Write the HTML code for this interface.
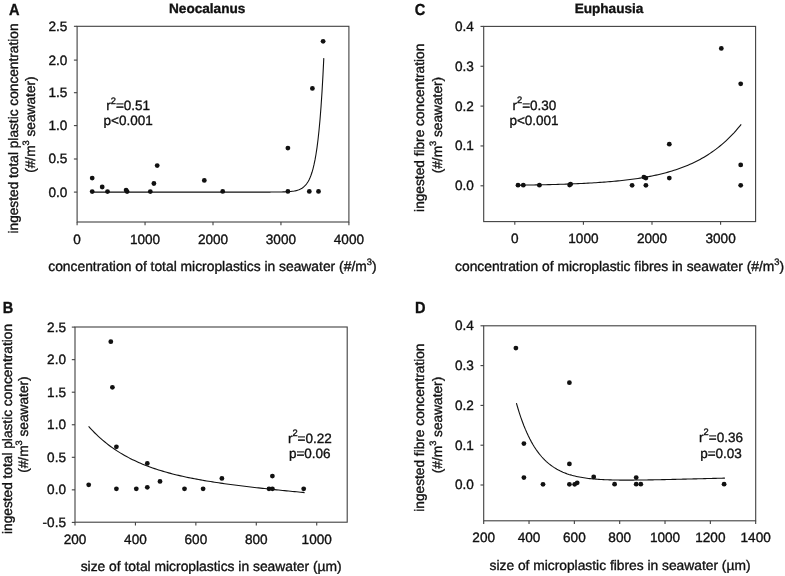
<!DOCTYPE html>
<html><head><meta charset="utf-8"><title>Figure</title>
<style>
html,body{margin:0;padding:0;background:#fff;}
svg{display:block;font-family:"Liberation Sans",sans-serif;fill:#111;text-rendering:geometricPrecision;}
text{stroke:#111;stroke-width:0.35px;}
</style></head>
<body>
<svg width="785" height="576" viewBox="0 0 785 576">
<rect x="0" y="0" width="785" height="576" fill="#fff" stroke="none"/>
<rect x="77.10" y="26.30" width="271.80" height="195.70" fill="none" stroke="#404040" stroke-width="1.1"/>
<line x1="73.90" y1="192.10" x2="77.10" y2="192.10" stroke="#404040" stroke-width="1.1"/>
<text x="67.30" y="196.50" text-anchor="end" font-size="13.6">0.0</text>
<line x1="73.90" y1="159.00" x2="77.10" y2="159.00" stroke="#404040" stroke-width="1.1"/>
<text x="67.30" y="163.40" text-anchor="end" font-size="13.6">0.5</text>
<line x1="73.90" y1="125.60" x2="77.10" y2="125.60" stroke="#404040" stroke-width="1.1"/>
<text x="67.30" y="130.00" text-anchor="end" font-size="13.6">1.0</text>
<line x1="73.90" y1="92.70" x2="77.10" y2="92.70" stroke="#404040" stroke-width="1.1"/>
<text x="67.30" y="97.10" text-anchor="end" font-size="13.6">1.5</text>
<line x1="73.90" y1="60.10" x2="77.10" y2="60.10" stroke="#404040" stroke-width="1.1"/>
<text x="67.30" y="64.50" text-anchor="end" font-size="13.6">2.0</text>
<line x1="73.90" y1="26.30" x2="77.10" y2="26.30" stroke="#404040" stroke-width="1.1"/>
<text x="67.30" y="30.70" text-anchor="end" font-size="13.6">2.5</text>
<line x1="77.10" y1="222.00" x2="77.10" y2="225.20" stroke="#404040" stroke-width="1.1"/>
<text x="77.10" y="243.55" text-anchor="middle" font-size="13.6">0</text>
<line x1="145.05" y1="222.00" x2="145.05" y2="225.20" stroke="#404040" stroke-width="1.1"/>
<text x="145.05" y="243.55" text-anchor="middle" font-size="13.6">1000</text>
<line x1="213.00" y1="222.00" x2="213.00" y2="225.20" stroke="#404040" stroke-width="1.1"/>
<text x="213.00" y="243.55" text-anchor="middle" font-size="13.6">2000</text>
<line x1="280.95" y1="222.00" x2="280.95" y2="225.20" stroke="#404040" stroke-width="1.1"/>
<text x="280.95" y="243.55" text-anchor="middle" font-size="13.6">3000</text>
<line x1="348.90" y1="222.00" x2="348.90" y2="225.20" stroke="#404040" stroke-width="1.1"/>
<text x="348.90" y="243.55" text-anchor="middle" font-size="13.6">4000</text>
<circle cx="92.2" cy="178.1" r="2.4"/>
<circle cx="92.2" cy="191.6" r="2.4"/>
<circle cx="102.2" cy="187.0" r="2.4"/>
<circle cx="107.5" cy="191.6" r="2.4"/>
<circle cx="126.1" cy="190.1" r="2.4"/>
<circle cx="127.1" cy="191.6" r="2.4"/>
<circle cx="150.3" cy="191.6" r="2.4"/>
<circle cx="153.9" cy="183.5" r="2.4"/>
<circle cx="157.2" cy="165.6" r="2.4"/>
<circle cx="204.3" cy="180.4" r="2.4"/>
<circle cx="222.7" cy="191.4" r="2.4"/>
<circle cx="287.9" cy="148.1" r="2.4"/>
<circle cx="287.9" cy="191.4" r="2.4"/>
<circle cx="309.3" cy="191.4" r="2.4"/>
<circle cx="318.5" cy="191.4" r="2.4"/>
<circle cx="312.4" cy="88.4" r="2.4"/>
<circle cx="323.1" cy="41.3" r="2.4"/>
<path d="M92.20,192.10 L250.00,192.10 L251.00,192.10 L252.00,192.10 L253.00,192.10 L254.00,192.10 L255.00,192.10 L256.00,192.10 L257.00,192.10 L258.00,192.10 L259.00,192.10 L260.00,192.10 L261.00,192.09 L262.00,192.09 L263.00,192.09 L264.00,192.09 L265.00,192.09 L266.00,192.09 L267.00,192.09 L268.00,192.08 L269.00,192.08 L270.00,192.08 L271.00,192.07 L272.00,192.07 L273.00,192.06 L274.00,192.06 L275.00,192.05 L276.00,192.04 L277.00,192.03 L278.00,192.02 L279.00,192.01 L280.00,191.99 L281.00,191.97 L282.00,191.95 L283.00,191.92 L284.00,191.89 L285.00,191.85 L286.00,191.81 L287.00,191.75 L288.00,191.69 L289.00,191.62 L290.00,191.54 L291.00,191.44 L292.00,191.32 L293.00,191.19 L294.00,191.03 L295.00,190.84 L296.00,190.62 L297.00,190.36 L298.00,190.05 L299.00,189.69 L300.00,189.26 L301.00,188.77 L302.00,188.18 L303.00,187.49 L304.00,186.68 L305.00,185.73 L306.00,184.60 L307.00,183.29 L308.00,181.74 L309.00,179.91 L310.00,177.77 L311.00,175.25 L312.00,172.29 L313.00,168.80 L314.00,164.71 L315.00,159.89 L316.00,154.23 L317.00,147.57 L318.00,139.73 L319.00,130.53 L320.00,119.70 L321.00,106.96 L322.00,91.99 L323.00,74.39 L323.80,58.10" fill="none" stroke="#111" stroke-width="1.1"/>
<text transform="translate(14.20 14.60) scale(0.91 1)" x="0" y="0" text-anchor="middle" font-size="16" font-weight="bold">A</text>
<text x="207.20" y="13.30" text-anchor="middle" font-size="13.6" font-weight="bold">Neocalanus</text>
<text x="212.40" y="270.60" text-anchor="middle" font-size="13.85">concentration of total microplastics in seawater (#/m<tspan dy="-5.9" font-size="9.3">3</tspan><tspan dy="5.9">)</tspan></text>
<text x="17.80" y="128.50" text-anchor="middle" font-size="13.7" transform="rotate(-90 17.80 128.50)">ingested total plastic concentration</text>
<text x="34.80" y="124.60" text-anchor="middle" font-size="13.7" transform="rotate(-90 34.80 124.60)">(#/m<tspan dy="-5.9" font-size="9.3">3</tspan><tspan dy="5.9"> seawater)</tspan></text>
<text x="128.20" y="110.10" text-anchor="middle" font-size="13.5">r<tspan dy="-6.6" font-size="9.3">2</tspan><tspan dy="6.6">=0.51</tspan></text>
<text x="128.20" y="124.70" text-anchor="middle" font-size="13.5">p&lt;0.001</text>
<rect x="483.70" y="26.40" width="271.90" height="195.20" fill="none" stroke="#404040" stroke-width="1.1"/>
<line x1="480.50" y1="185.80" x2="483.70" y2="185.80" stroke="#404040" stroke-width="1.1"/>
<text x="473.90" y="190.20" text-anchor="end" font-size="13.6">0.0</text>
<line x1="480.50" y1="145.95" x2="483.70" y2="145.95" stroke="#404040" stroke-width="1.1"/>
<text x="473.90" y="150.35" text-anchor="end" font-size="13.6">0.1</text>
<line x1="480.50" y1="106.10" x2="483.70" y2="106.10" stroke="#404040" stroke-width="1.1"/>
<text x="473.90" y="110.50" text-anchor="end" font-size="13.6">0.2</text>
<line x1="480.50" y1="66.25" x2="483.70" y2="66.25" stroke="#404040" stroke-width="1.1"/>
<text x="473.90" y="70.65" text-anchor="end" font-size="13.6">0.3</text>
<line x1="480.50" y1="26.40" x2="483.70" y2="26.40" stroke="#404040" stroke-width="1.1"/>
<text x="473.90" y="30.80" text-anchor="end" font-size="13.6">0.4</text>
<line x1="514.80" y1="221.60" x2="514.80" y2="224.80" stroke="#404040" stroke-width="1.1"/>
<text x="514.80" y="243.15" text-anchor="middle" font-size="13.6">0</text>
<line x1="583.40" y1="221.60" x2="583.40" y2="224.80" stroke="#404040" stroke-width="1.1"/>
<text x="583.40" y="243.15" text-anchor="middle" font-size="13.6">1000</text>
<line x1="652.00" y1="221.60" x2="652.00" y2="224.80" stroke="#404040" stroke-width="1.1"/>
<text x="652.00" y="243.15" text-anchor="middle" font-size="13.6">2000</text>
<line x1="720.60" y1="221.60" x2="720.60" y2="224.80" stroke="#404040" stroke-width="1.1"/>
<text x="720.60" y="243.15" text-anchor="middle" font-size="13.6">3000</text>
<circle cx="518.0" cy="185.2" r="2.4"/>
<circle cx="523.3" cy="185.2" r="2.4"/>
<circle cx="539.4" cy="185.2" r="2.4"/>
<circle cx="569.6" cy="185.0" r="2.4"/>
<circle cx="570.6" cy="184.2" r="2.4"/>
<circle cx="632.1" cy="185.3" r="2.4"/>
<circle cx="645.9" cy="185.3" r="2.4"/>
<circle cx="643.9" cy="177.1" r="2.4"/>
<circle cx="645.9" cy="178.1" r="2.4"/>
<circle cx="669.3" cy="178.1" r="2.4"/>
<circle cx="669.3" cy="144.2" r="2.4"/>
<circle cx="721.3" cy="48.4" r="2.4"/>
<circle cx="740.7" cy="83.8" r="2.4"/>
<circle cx="740.7" cy="164.9" r="2.4"/>
<circle cx="740.7" cy="185.3" r="2.4"/>
<path d="M518.00,185.17 L520.00,185.15 L522.00,185.12 L524.00,185.09 L526.00,185.06 L528.00,185.03 L530.00,185.00 L532.00,184.96 L534.00,184.93 L536.00,184.89 L538.00,184.86 L540.00,184.82 L542.00,184.77 L544.00,184.73 L546.00,184.69 L548.00,184.64 L550.00,184.59 L552.00,184.54 L554.00,184.49 L556.00,184.43 L558.00,184.37 L560.00,184.32 L562.00,184.25 L564.00,184.19 L566.00,184.12 L568.00,184.05 L570.00,183.98 L572.00,183.90 L574.00,183.82 L576.00,183.74 L578.00,183.65 L580.00,183.56 L582.00,183.47 L584.00,183.37 L586.00,183.27 L588.00,183.16 L590.00,183.05 L592.00,182.93 L594.00,182.81 L596.00,182.69 L598.00,182.56 L600.00,182.42 L602.00,182.28 L604.00,182.13 L606.00,181.98 L608.00,181.82 L610.00,181.65 L612.00,181.48 L614.00,181.30 L616.00,181.11 L618.00,180.91 L620.00,180.70 L622.00,180.49 L624.00,180.27 L626.00,180.04 L628.00,179.79 L630.00,179.54 L632.00,179.28 L634.00,179.01 L636.00,178.72 L638.00,178.42 L640.00,178.11 L642.00,177.79 L644.00,177.46 L646.00,177.11 L648.00,176.74 L650.00,176.36 L652.00,175.96 L654.00,175.55 L656.00,175.12 L658.00,174.67 L660.00,174.21 L662.00,173.72 L664.00,173.21 L666.00,172.69 L668.00,172.14 L670.00,171.56 L672.00,170.97 L674.00,170.34 L676.00,169.69 L678.00,169.02 L680.00,168.31 L682.00,167.58 L684.00,166.82 L686.00,166.02 L688.00,165.19 L690.00,164.33 L692.00,163.42 L694.00,162.49 L696.00,161.51 L698.00,160.49 L700.00,159.43 L702.00,158.32 L704.00,157.17 L706.00,155.97 L708.00,154.71 L710.00,153.41 L712.00,152.05 L714.00,150.63 L716.00,149.16 L718.00,147.62 L720.00,146.02 L722.00,144.35 L724.00,142.61 L726.00,140.80 L728.00,138.91 L730.00,136.94 L732.00,134.89 L734.00,132.76 L736.00,130.53 L738.00,128.21 L740.00,125.80 L741.20,124.30" fill="none" stroke="#111" stroke-width="1.1"/>
<text transform="translate(420.00 14.60) scale(0.91 1)" x="0" y="0" text-anchor="middle" font-size="16" font-weight="bold">C</text>
<text x="609.00" y="13.30" text-anchor="middle" font-size="13.6" font-weight="bold">Euphausia</text>
<text x="619.60" y="270.60" text-anchor="middle" font-size="13.85">concentration of microplastic fibres in seawater (#/m<tspan dy="-5.9" font-size="9.3">3</tspan><tspan dy="5.9">)</tspan></text>
<text x="424.50" y="127.80" text-anchor="middle" font-size="13.7" transform="rotate(-90 424.50 127.80)">ingested fibre concentration</text>
<text x="442.00" y="125.10" text-anchor="middle" font-size="13.7" transform="rotate(-90 442.00 125.10)">(#/m<tspan dy="-5.9" font-size="9.3">3</tspan><tspan dy="5.9"> seawater)</tspan></text>
<text x="534.40" y="109.70" text-anchor="middle" font-size="13.5">r<tspan dy="-6.6" font-size="9.3">2</tspan><tspan dy="6.6">=0.30</tspan></text>
<text x="534.00" y="124.70" text-anchor="middle" font-size="13.5">p&lt;0.001</text>
<rect x="75.00" y="327.00" width="272.20" height="195.20" fill="none" stroke="#404040" stroke-width="1.1"/>
<line x1="71.80" y1="522.40" x2="75.00" y2="522.40" stroke="#404040" stroke-width="1.1"/>
<text x="66.00" y="526.90" text-anchor="end" font-size="13.6">-0.5</text>
<line x1="71.80" y1="489.85" x2="75.00" y2="489.85" stroke="#404040" stroke-width="1.1"/>
<text x="66.00" y="494.35" text-anchor="end" font-size="13.6">0.0</text>
<line x1="71.80" y1="457.30" x2="75.00" y2="457.30" stroke="#404040" stroke-width="1.1"/>
<text x="66.00" y="461.80" text-anchor="end" font-size="13.6">0.5</text>
<line x1="71.80" y1="424.75" x2="75.00" y2="424.75" stroke="#404040" stroke-width="1.1"/>
<text x="66.00" y="429.25" text-anchor="end" font-size="13.6">1.0</text>
<line x1="71.80" y1="392.20" x2="75.00" y2="392.20" stroke="#404040" stroke-width="1.1"/>
<text x="66.00" y="396.70" text-anchor="end" font-size="13.6">1.5</text>
<line x1="71.80" y1="359.65" x2="75.00" y2="359.65" stroke="#404040" stroke-width="1.1"/>
<text x="66.00" y="364.15" text-anchor="end" font-size="13.6">2.0</text>
<line x1="71.80" y1="327.10" x2="75.00" y2="327.10" stroke="#404040" stroke-width="1.1"/>
<text x="66.00" y="331.60" text-anchor="end" font-size="13.6">2.5</text>
<line x1="75.00" y1="522.20" x2="75.00" y2="525.40" stroke="#404040" stroke-width="1.1"/>
<text x="75.00" y="543.75" text-anchor="middle" font-size="13.6">200</text>
<line x1="135.43" y1="522.20" x2="135.43" y2="525.40" stroke="#404040" stroke-width="1.1"/>
<text x="135.43" y="543.75" text-anchor="middle" font-size="13.6">400</text>
<line x1="195.86" y1="522.20" x2="195.86" y2="525.40" stroke="#404040" stroke-width="1.1"/>
<text x="195.86" y="543.75" text-anchor="middle" font-size="13.6">600</text>
<line x1="256.29" y1="522.20" x2="256.29" y2="525.40" stroke="#404040" stroke-width="1.1"/>
<text x="256.29" y="543.75" text-anchor="middle" font-size="13.6">800</text>
<line x1="316.72" y1="522.20" x2="316.72" y2="525.40" stroke="#404040" stroke-width="1.1"/>
<text x="316.72" y="543.75" text-anchor="middle" font-size="13.6">1000</text>
<circle cx="88.7" cy="484.8" r="2.4"/>
<circle cx="110.8" cy="341.7" r="2.4"/>
<circle cx="112.4" cy="387.3" r="2.4"/>
<circle cx="116.4" cy="446.8" r="2.4"/>
<circle cx="116.4" cy="488.8" r="2.4"/>
<circle cx="136.3" cy="488.8" r="2.4"/>
<circle cx="147.3" cy="487.3" r="2.4"/>
<circle cx="147.3" cy="463.4" r="2.4"/>
<circle cx="160.0" cy="481.4" r="2.4"/>
<circle cx="184.5" cy="488.8" r="2.4"/>
<circle cx="203.1" cy="488.8" r="2.4"/>
<circle cx="221.9" cy="478.4" r="2.4"/>
<circle cx="269.0" cy="488.8" r="2.4"/>
<circle cx="272.4" cy="488.8" r="2.4"/>
<circle cx="272.4" cy="476.1" r="2.4"/>
<circle cx="303.7" cy="488.8" r="2.4"/>
<path d="M88.60,426.40 L90.60,428.60 L92.60,430.71 L94.60,432.74 L96.60,434.69 L98.60,436.57 L100.60,438.38 L102.60,440.12 L104.60,441.79 L106.60,443.40 L108.60,444.95 L110.60,446.44 L112.60,447.88 L114.60,449.26 L116.60,450.59 L118.60,451.88 L120.60,453.11 L122.60,454.31 L124.60,455.46 L126.60,456.57 L128.60,457.63 L130.60,458.67 L132.60,459.66 L134.60,460.62 L136.60,461.55 L138.60,462.45 L140.60,463.31 L142.60,464.15 L144.60,464.95 L146.60,465.74 L148.60,466.49 L150.60,467.22 L152.60,467.93 L154.60,468.62 L156.60,469.28 L158.60,469.92 L160.60,470.55 L162.60,471.15 L164.60,471.73 L166.60,472.30 L168.60,472.85 L170.60,473.39 L172.60,473.91 L174.60,474.41 L176.60,474.91 L178.60,475.38 L180.60,475.85 L182.60,476.30 L184.60,476.74 L186.60,477.17 L188.60,477.59 L190.60,478.00 L192.60,478.39 L194.60,478.78 L196.60,479.16 L198.60,479.53 L200.60,479.89 L202.60,480.25 L204.60,480.59 L206.60,480.93 L208.60,481.26 L210.60,481.58 L212.60,481.90 L214.60,482.21 L216.60,482.52 L218.60,482.82 L220.60,483.11 L222.60,483.40 L224.60,483.69 L226.60,483.97 L228.60,484.24 L230.60,484.51 L232.60,484.78 L234.60,485.04 L236.60,485.30 L238.60,485.55 L240.60,485.80 L242.60,486.05 L244.60,486.29 L246.60,486.53 L248.60,486.77 L250.60,487.00 L252.60,487.23 L254.60,487.46 L256.60,487.69 L258.60,487.91 L260.60,488.14 L262.60,488.36 L264.60,488.57 L266.60,488.79 L268.60,489.00 L270.60,489.21 L272.60,489.42 L274.60,489.63 L276.60,489.84 L278.60,490.04 L280.60,490.24 L282.60,490.45 L284.60,490.65 L286.60,490.85 L288.60,491.04 L290.60,491.24 L292.60,491.43 L294.60,491.63 L296.60,491.82 L298.60,492.01 L300.60,492.20 L302.60,492.39 L304.60,492.58" fill="none" stroke="#111" stroke-width="1.1"/>
<text transform="translate(8.10 312.60) scale(0.91 1)" x="0" y="0" text-anchor="middle" font-size="16" font-weight="bold">B</text>
<text x="211.20" y="571.10" text-anchor="middle" font-size="13.85">size of total microplastics in seawater (µm)</text>
<text x="11.50" y="429.00" text-anchor="middle" font-size="13.7" transform="rotate(-90 11.50 429.00)">ingested total plastic concentration</text>
<text x="28.40" y="424.60" text-anchor="middle" font-size="13.7" transform="rotate(-90 28.40 424.60)">(#/m<tspan dy="-5.9" font-size="9.3">3</tspan><tspan dy="5.9"> seawater)</tspan></text>
<text x="309.80" y="442.90" text-anchor="middle" font-size="13.5">r<tspan dy="-6.6" font-size="9.3">2</tspan><tspan dy="6.6">=0.22</tspan></text>
<text x="309.80" y="458.10" text-anchor="middle" font-size="13.5">p=0.06</text>
<rect x="483.70" y="325.80" width="272.00" height="195.00" fill="none" stroke="#404040" stroke-width="1.1"/>
<line x1="480.50" y1="485.00" x2="483.70" y2="485.00" stroke="#404040" stroke-width="1.1"/>
<text x="473.90" y="489.40" text-anchor="end" font-size="13.6">0.0</text>
<line x1="480.50" y1="445.20" x2="483.70" y2="445.20" stroke="#404040" stroke-width="1.1"/>
<text x="473.90" y="449.60" text-anchor="end" font-size="13.6">0.1</text>
<line x1="480.50" y1="405.40" x2="483.70" y2="405.40" stroke="#404040" stroke-width="1.1"/>
<text x="473.90" y="409.80" text-anchor="end" font-size="13.6">0.2</text>
<line x1="480.50" y1="365.60" x2="483.70" y2="365.60" stroke="#404040" stroke-width="1.1"/>
<text x="473.90" y="370.00" text-anchor="end" font-size="13.6">0.3</text>
<line x1="480.50" y1="325.80" x2="483.70" y2="325.80" stroke="#404040" stroke-width="1.1"/>
<text x="473.90" y="330.20" text-anchor="end" font-size="13.6">0.4</text>
<line x1="483.70" y1="520.80" x2="483.70" y2="524.00" stroke="#404040" stroke-width="1.1"/>
<text x="483.70" y="542.35" text-anchor="middle" font-size="13.6">200</text>
<line x1="529.03" y1="520.80" x2="529.03" y2="524.00" stroke="#404040" stroke-width="1.1"/>
<text x="529.03" y="542.35" text-anchor="middle" font-size="13.6">400</text>
<line x1="574.36" y1="520.80" x2="574.36" y2="524.00" stroke="#404040" stroke-width="1.1"/>
<text x="574.36" y="542.35" text-anchor="middle" font-size="13.6">600</text>
<line x1="619.69" y1="520.80" x2="619.69" y2="524.00" stroke="#404040" stroke-width="1.1"/>
<text x="619.69" y="542.35" text-anchor="middle" font-size="13.6">800</text>
<line x1="665.02" y1="520.80" x2="665.02" y2="524.00" stroke="#404040" stroke-width="1.1"/>
<text x="665.02" y="542.35" text-anchor="middle" font-size="13.6">1000</text>
<line x1="710.35" y1="520.80" x2="710.35" y2="524.00" stroke="#404040" stroke-width="1.1"/>
<text x="710.35" y="542.35" text-anchor="middle" font-size="13.6">1200</text>
<line x1="755.68" y1="520.80" x2="755.68" y2="524.00" stroke="#404040" stroke-width="1.1"/>
<text x="755.68" y="542.35" text-anchor="middle" font-size="13.6">1400</text>
<circle cx="515.9" cy="348.1" r="2.4"/>
<circle cx="569.4" cy="382.7" r="2.4"/>
<circle cx="523.9" cy="443.6" r="2.4"/>
<circle cx="523.9" cy="477.6" r="2.4"/>
<circle cx="543.0" cy="484.3" r="2.4"/>
<circle cx="569.4" cy="463.9" r="2.4"/>
<circle cx="569.4" cy="484.3" r="2.4"/>
<circle cx="574.7" cy="484.3" r="2.4"/>
<circle cx="577.2" cy="482.8" r="2.4"/>
<circle cx="593.7" cy="476.9" r="2.4"/>
<circle cx="614.6" cy="484.2" r="2.4"/>
<circle cx="636.2" cy="477.6" r="2.4"/>
<circle cx="636.2" cy="484.2" r="2.4"/>
<circle cx="640.8" cy="484.2" r="2.4"/>
<circle cx="724.1" cy="484.2" r="2.4"/>
<path d="M516.40,403.12 L517.90,408.26 L519.40,413.08 L520.90,417.58 L522.40,421.78 L523.90,425.72 L525.40,429.39 L526.90,432.83 L528.40,436.05 L529.90,439.05 L531.40,441.86 L532.90,444.49 L534.40,446.94 L535.90,449.23 L537.40,451.38 L538.90,453.38 L540.40,455.25 L541.90,457.00 L543.40,458.63 L544.90,460.15 L546.40,461.58 L547.90,462.91 L549.40,464.15 L550.90,465.31 L552.40,466.39 L553.90,467.40 L555.40,468.34 L556.90,469.22 L558.40,470.04 L559.90,470.80 L561.40,471.51 L562.90,472.18 L564.40,472.80 L565.90,473.37 L567.40,473.91 L568.90,474.41 L570.40,474.87 L571.90,475.31 L573.40,475.71 L574.90,476.08 L576.40,476.43 L577.90,476.75 L579.40,477.05 L580.90,477.33 L582.40,477.58 L583.90,477.82 L585.40,478.04 L586.90,478.24 L588.40,478.43 L589.90,478.60 L591.40,478.76 L592.90,478.91 L594.40,479.04 L595.90,479.16 L597.40,479.28 L598.90,479.38 L600.40,479.47 L601.90,479.56 L603.40,479.63 L604.90,479.70 L606.40,479.76 L607.90,479.82 L609.40,479.87 L610.90,479.91 L612.40,479.95 L613.90,479.99 L615.40,480.01 L616.90,480.04 L618.40,480.06 L619.90,480.08 L621.40,480.09 L622.90,480.10 L624.40,480.10 L625.90,480.11 L627.40,480.11 L628.90,480.11 L630.40,480.10 L631.90,480.09 L633.40,480.09 L634.90,480.07 L636.40,480.06 L637.90,480.05 L639.40,480.03 L640.90,480.01 L642.40,479.99 L643.90,479.97 L645.40,479.95 L646.90,479.93 L648.40,479.91 L649.90,479.88 L651.40,479.85 L652.90,479.83 L654.40,479.80 L655.90,479.77 L657.40,479.74 L658.90,479.71 L660.40,479.68 L661.90,479.65 L663.40,479.62 L664.90,479.59 L666.40,479.56 L667.90,479.52 L669.40,479.49 L670.90,479.46 L672.40,479.42 L673.90,479.39 L675.40,479.35 L676.90,479.32 L678.40,479.28 L679.90,479.24 L681.40,479.21 L682.90,479.17 L684.40,479.14 L685.90,479.10 L687.40,479.06 L688.90,479.03 L690.40,478.99 L691.90,478.95 L693.40,478.91 L694.90,478.88 L696.40,478.84 L697.90,478.80 L699.40,478.76 L700.90,478.72 L702.40,478.69 L703.90,478.65 L705.40,478.61 L706.90,478.57 L708.40,478.53 L709.90,478.49 L711.40,478.45 L712.90,478.41 L714.40,478.38 L715.90,478.34 L717.40,478.30 L718.90,478.26 L720.40,478.22 L721.90,478.18 L723.40,478.14 L724.90,478.10" fill="none" stroke="#111" stroke-width="1.1"/>
<text transform="translate(420.20 312.60) scale(0.91 1)" x="0" y="0" text-anchor="middle" font-size="16" font-weight="bold">D</text>
<text x="620.00" y="569.90" text-anchor="middle" font-size="13.8">size of microplastic fibres in seawater (µm)</text>
<text x="424.50" y="427.60" text-anchor="middle" font-size="13.7" transform="rotate(-90 424.50 427.60)">ingested fibre concentration</text>
<text x="442.00" y="425.00" text-anchor="middle" font-size="13.7" transform="rotate(-90 442.00 425.00)">(#/m<tspan dy="-5.9" font-size="9.3">3</tspan><tspan dy="5.9"> seawater)</tspan></text>
<text x="721.00" y="441.90" text-anchor="middle" font-size="13.5">r<tspan dy="-6.6" font-size="9.3">2</tspan><tspan dy="6.6">=0.36</tspan></text>
<text x="721.00" y="457.70" text-anchor="middle" font-size="13.5">p=0.03</text>
</svg>
</body></html>
